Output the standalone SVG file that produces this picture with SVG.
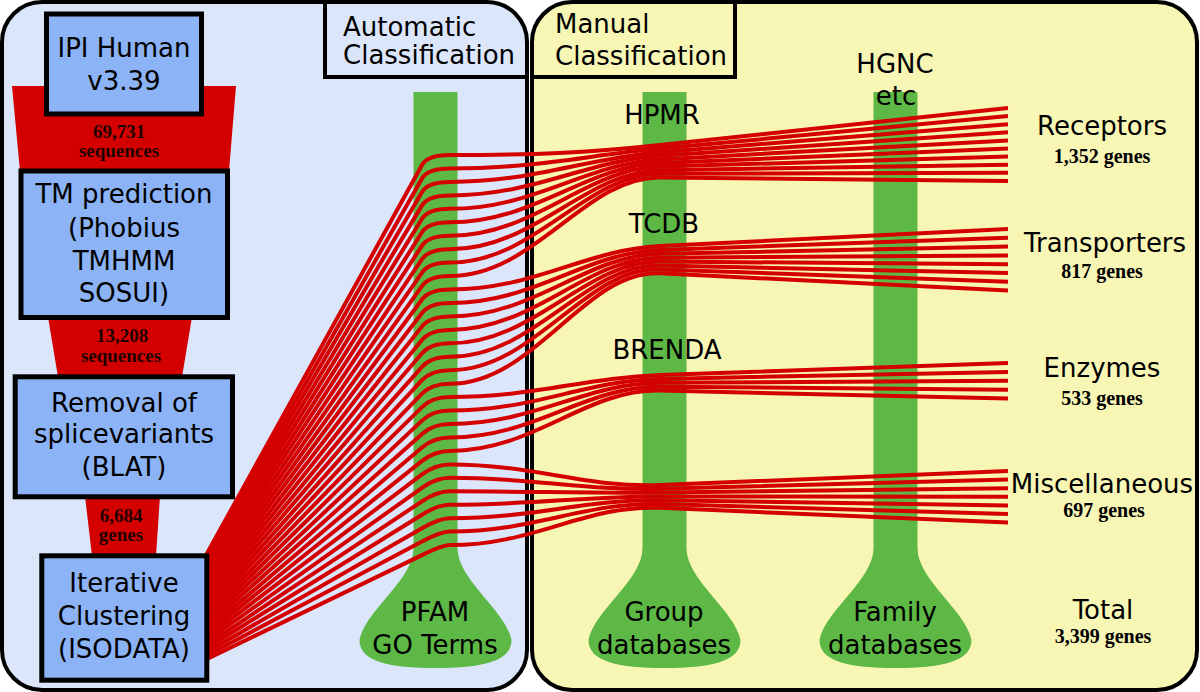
<svg xmlns="http://www.w3.org/2000/svg" width="1200" height="692" viewBox="0 0 1200 692">
<style>
.sans{font-family:'DejaVu Sans','Liberation Sans',sans-serif;font-size:26px;fill:#000;text-anchor:middle}
.start{text-anchor:start}
.num{font-family:'Liberation Serif','Times New Roman',serif;font-weight:bold;font-size:20px;fill:#000;text-anchor:middle}
.fnum{fill:#220000;font-size:19px}
.box{fill:#8cb3f5;stroke:#000;stroke-width:5}
.funnel{fill:#d40000}
.col{fill:#5db845}
.panel{stroke:#000;stroke-width:4}
.tab{fill:none;stroke:#000;stroke-width:4}
.link{fill:none;stroke:#d40000;stroke-width:4;stroke-linejoin:round}
</style>
<rect width="1200" height="692" fill="#fff"/>
<g id="panels">
<rect class="panel" x="2" y="2" width="525" height="688" rx="40" fill="#dbe6fb"/>
<rect class="panel" x="532" y="2" width="665" height="688" rx="40" fill="#f8f6b5"/>
</g>
<g id="tab-automatic">
<path class="tab" d="M325,2 V77 H527"/>
<text class="sans start" x="343" y="36">Automatic</text>
<text class="sans start" x="343" y="64">Classification</text>
</g>
<g id="tab-manual">
<path class="tab" d="M532,77 H735 V2"/>
<text class="sans start" x="555" y="33">Manual</text>
<text class="sans start" x="555" y="65">Classification</text>
</g>
<g id="col-pfam">
<path class="col" d="M413.5,92 H457.5 V548 C457.5,580 505.5,610 511.5,640 C511.5,662 480.5,668 435.5,668 C390.5,668 359.5,662 359.5,640 C365.5,610 413.5,580 413.5,548 Z"/>
<text class="sans" x="435" y="621">PFAM</text>
<text class="sans" x="435" y="654">GO Terms</text>
</g>
<g id="col-group">
<path class="col" d="M642.5,92 H686.5 V548 C686.5,580 734.5,610 740.5,640 C740.5,662 709.5,668 664.5,668 C619.5,668 588.5,662 588.5,640 C594.5,610 642.5,580 642.5,548 Z"/>
<text class="sans" x="662" y="124">HPMR</text>
<text class="sans" x="664" y="233">TCDB</text>
<text class="sans" x="667" y="359">BRENDA</text>
<text class="sans" x="664" y="621">Group</text>
<text class="sans" x="664" y="654">databases</text>
</g>
<g id="col-family">
<path class="col" d="M873.5,92 H917.5 V548 C917.5,580 965.5,610 971.5,640 C971.5,662 940.5,668 895.5,668 C850.5,668 819.5,662 819.5,640 C825.5,610 873.5,580 873.5,548 Z"/>
<text class="sans" x="895" y="73">HGNC</text>
<text class="sans" x="896" y="105">etc</text>
<text class="sans" x="895" y="621">Family</text>
<text class="sans" x="895" y="654">databases</text>
</g>
<g id="funnels">
<polygon class="funnel" points="12,86 236,86 229,171 20,171"/>
<polygon class="funnel" points="48,317 192,317 182,377 58,377"/>
<polygon class="funnel" points="85,496 160,496 156,556 92,556"/>
<text class="num fnum" x="119" y="138">69,731</text>
<text class="num fnum" x="119" y="157">sequences</text>
<text class="num fnum" x="122" y="342">13,208</text>
<text class="num fnum" x="121" y="362">sequences</text>
<text class="num fnum" x="121" y="522">6,684</text>
<text class="num fnum" x="121" y="541">genes</text>
</g>
<g id="connectors">
<path class="link" d="M205,557 L422,165 Q427.5,155 450,155 C535,155 585,153 660,145 L1008,108"/>
<path class="link" d="M205,560.6 L422,178.5 Q427.7,168.5 450,168.5 C535,168.5 585,155.6 660,148.6 L1008,116.1"/>
<path class="link" d="M205,564.1 L422,191.9 Q427.8,181.9 450,181.9 C535,181.9 585,158.2 660,152.2 L1008,124.2"/>
<path class="link" d="M205,567.7 L422,205.4 Q428,195.4 450,195.4 C535,195.4 585,160.9 660,155.8 L1008,132.3"/>
<path class="link" d="M205,571.2 L422,218.8 Q428.2,208.8 450,208.8 C535,208.8 585,163.5 660,159.4 L1008,140.4"/>
<path class="link" d="M205,574.8 L422,232.3 Q428.3,222.3 450,222.3 C535,222.3 585,166.1 660,163 L1008,148.5"/>
<path class="link" d="M205,578.3 L422,245.7 Q428.5,235.7 450,235.7 C535,235.7 585,168.8 660,166.6 L1008,156.6"/>
<path class="link" d="M205,581.9 L422,259.2 Q428.7,249.2 450,249.2 C535,249.2 585,171.4 660,170.2 L1008,164.7"/>
<path class="link" d="M205,585.4 L422,272.6 Q428.9,262.6 450,262.6 C535,262.6 585,174 660,173.8 L1008,172.8"/>
<path class="link" d="M205,589 L422,286.1 Q429.2,276.1 450,276.1 C535,276.1 585,176.6 660,177.4 L1008,180.9"/>
<path class="link" d="M205,592.5 L422,299.5 Q429.4,289.5 450,289.5 C535,289.5 585,249.7 660,246 L1008,229"/>
<path class="link" d="M205,596.1 L422,313 Q429.7,303 450,303 C535,303 585,252.5 660,249.9 L1008,237.8"/>
<path class="link" d="M205,599.6 L422,326.4 Q429.9,316.4 450,316.4 C535,316.4 585,255.4 660,253.8 L1008,246.6"/>
<path class="link" d="M205,603.2 L422,339.9 Q430.2,329.9 450,329.9 C535,329.9 585,258.2 660,257.7 L1008,255.4"/>
<path class="link" d="M205,606.7 L422,353.3 Q430.6,343.3 450,343.3 C535,343.3 585,261 660,261.6 L1008,264.2"/>
<path class="link" d="M205,610.3 L422,366.8 Q430.9,356.8 450,356.8 C535,356.8 585,263.9 660,265.5 L1008,273"/>
<path class="link" d="M205,613.8 L422,380.2 Q431.3,370.2 450,370.2 C535,370.2 585,266.7 660,269.4 L1008,281.8"/>
<path class="link" d="M205,617.4 L422,393.7 Q431.7,383.7 450,383.7 C535,383.7 585,269.6 660,273.3 L1008,290.6"/>
<path class="link" d="M205,620.9 L422,407.1 Q432.1,397.1 450,397.1 C535,397.1 585,377.6 660,375 L1008,363"/>
<path class="link" d="M205,624.5 L422,420.6 Q432.6,410.6 450,410.6 C535,410.6 585,380.4 660,378.9 L1008,371.9"/>
<path class="link" d="M205,628 L422,434 Q433.2,424 450,424 C535,424 585,383.2 660,382.8 L1008,380.8"/>
<path class="link" d="M205,631.6 L422,447.5 Q433.8,437.5 450,437.5 C535,437.5 585,386.1 660,386.7 L1008,389.7"/>
<path class="link" d="M205,635.1 L422,460.9 Q434.5,450.9 450,450.9 C535,450.9 585,388.9 660,390.6 L1008,398.6"/>
<path class="link" d="M205,638.7 L422,474.4 Q435.2,464.4 450,464.4 C535,464.4 585,488 660,485 L1008,471"/>
<path class="link" d="M205,642.2 L422,487.8 Q436.1,477.8 450,477.8 C535,477.8 585,490.8 660,488.8 L1008,479.6"/>
<path class="link" d="M205,645.8 L422,501.3 Q437,491.3 450,491.3 C535,491.3 585,493.5 660,492.6 L1008,488.2"/>
<path class="link" d="M205,649.3 L422,514.7 Q438.1,504.7 450,504.7 C535,504.7 585,496.3 660,496.4 L1008,496.8"/>
<path class="link" d="M205,652.9 L422,528.2 Q439.4,518.2 450,518.2 C535,518.2 585,499.1 660,500.2 L1008,505.4"/>
<path class="link" d="M205,656.4 L422,541.6 Q440.9,531.6 450,531.6 C535,531.6 585,501.8 660,504 L1008,514"/>
<path class="link" d="M205,660 L422,555.1 Q442.7,545.1 450,545.1 C535,545.1 585,504.6 660,507.8 L1008,522.6"/>
</g>
<g id="node-ipi">
<rect class="box" x="46.5" y="14" width="155" height="100"/>
<text class="sans" x="124" y="57">IPI Human</text>
<text class="sans" x="124" y="90">v3.39</text>
</g>
<g id="node-tm">
<rect class="box" x="21" y="171" width="206.5" height="146.5"/>
<text class="sans" x="124" y="203">TM prediction</text>
<text class="sans" x="124" y="237">(Phobius</text>
<text class="sans" x="124" y="270">TMHMM</text>
<text class="sans" x="124" y="302">SOSUI)</text>
</g>
<g id="node-removal">
<rect class="box" x="15.2" y="376.8" width="217.3" height="120"/>
<text class="sans" x="124" y="412">Removal of</text>
<text class="sans" x="124" y="443">splicevariants</text>
<text class="sans" x="124" y="476">(BLAT)</text>
</g>
<g id="node-clustering">
<rect class="box" x="41.8" y="555.8" width="165" height="124.4"/>
<text class="sans" x="124" y="592">Iterative</text>
<text class="sans" x="124" y="625">Clustering</text>
<text class="sans" x="124" y="658">(ISODATA)</text>
</g>
<g id="cat-receptors">
<text class="sans" x="1102" y="135">Receptors</text>
<text class="num" x="1102" y="163">1,352 genes</text>
</g>
<g id="cat-transporters">
<text class="sans" x="1105" y="252">Transporters</text>
<text class="num" x="1102" y="278">817 genes</text>
</g>
<g id="cat-enzymes">
<text class="sans" x="1102" y="377">Enzymes</text>
<text class="num" x="1102" y="405">533 genes</text>
</g>
<g id="cat-misc">
<text class="sans" x="1102" y="493">Miscellaneous</text>
<text class="num" x="1104" y="517">697 genes</text>
</g>
<g id="cat-total">
<text class="sans" x="1103" y="619">Total</text>
<text class="num" x="1103" y="643">3,399 genes</text>
</g>
</svg>
